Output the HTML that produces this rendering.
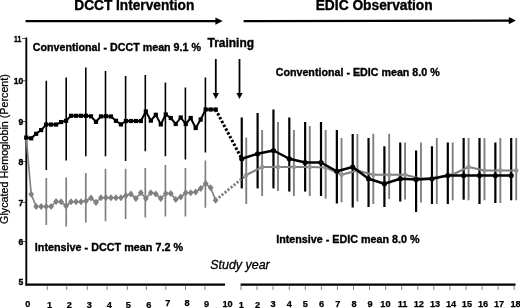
<!DOCTYPE html>
<html><head><meta charset="utf-8"><title>DCCT/EDIC</title>
<style>html,body{margin:0;padding:0;background:#fff;overflow:hidden}body{width:520px;height:308px;position:relative}</style></head>
<body>
<svg width="520" height="308" viewBox="0 0 520 308" style="display:block;position:absolute;left:0;top:0" font-family="'Liberation Sans', sans-serif">
<rect width="520" height="308" fill="#fff"/>
<line x1="25.6" y1="21.1" x2="218" y2="21.1" stroke="#000" stroke-width="2.4"/>
<polygon points="222.7,21.1 215.4,17.4 215.4,24.8" fill="#000"/>
<line x1="243.6" y1="21.1" x2="510" y2="20.6" stroke="#000" stroke-width="2.4"/>
<polygon points="515.9,20.6 508.8,17 508.8,24.2" fill="#000"/>
<text x="74.3" y="10.2" font-size="14" font-weight="bold" stroke="#000" stroke-width="0.35" textLength="120" lengthAdjust="spacingAndGlyphs">DCCT Intervention</text>
<text x="315.7" y="9.9" font-size="14" font-weight="bold" stroke="#000" stroke-width="0.35" textLength="117" lengthAdjust="spacingAndGlyphs">EDIC Observation</text>
<text x="207.5" y="47" font-size="12" font-weight="bold" stroke="#000" stroke-width="0.35" textLength="46.5" lengthAdjust="spacingAndGlyphs">Training</text>
<text x="32.7" y="51.3" font-size="10.7" font-weight="bold" stroke="#000" stroke-width="0.35" textLength="168.3" lengthAdjust="spacingAndGlyphs">Conventional - DCCT mean 9.1 %</text>
<text x="275.7" y="76.2" font-size="10.7" font-weight="bold" stroke="#000" stroke-width="0.35" textLength="164" lengthAdjust="spacingAndGlyphs">Conventional - EDIC mean 8.0 %</text>
<text x="34.8" y="251.2" font-size="10.7" font-weight="bold" stroke="#000" stroke-width="0.35" textLength="148.2" lengthAdjust="spacingAndGlyphs">Intensive - DCCT mean 7.2 %</text>
<text x="276.2" y="242.6" font-size="10.7" font-weight="bold" stroke="#000" stroke-width="0.35" textLength="143.4" lengthAdjust="spacingAndGlyphs">Intensive - EDIC mean 8.0 %</text>
<text x="210.2" y="269.3" font-size="12.3" font-style="italic" stroke="#000" stroke-width="0.3" textLength="59.6" lengthAdjust="spacingAndGlyphs">Study year</text>
<text transform="translate(8.1,223.9) rotate(-90)" font-size="10.6" stroke="#000" stroke-width="0.25" textLength="149.8" lengthAdjust="spacingAndGlyphs">Glycated Hemoglobin (Percent)</text>
<line x1="215.8" y1="59" x2="215.8" y2="94" stroke="#000" stroke-width="1.8"/>
<polygon points="215.8,98.9 212.70000000000002,93 218.9,93" fill="#000"/>
<line x1="239.5" y1="59" x2="239.5" y2="94" stroke="#000" stroke-width="1.8"/>
<polygon points="239.5,98.9 236.4,93 242.6,93" fill="#000"/>
<line x1="26.3" y1="37.5" x2="26.3" y2="285.7" stroke="#000" stroke-width="1.9"/>
<line x1="25.7" y1="284.6" x2="225" y2="284.6" stroke="#000" stroke-width="2.4"/>
<line x1="240.6" y1="284.6" x2="515.5" y2="284.6" stroke="#000" stroke-width="2.4"/>
<line x1="22" y1="38.5" x2="26" y2="38.5" stroke="#333" stroke-width="0.8"/>
<text x="21.2" y="42.3" font-size="8.6" font-weight="bold" stroke="#000" stroke-width="0.35" text-anchor="end" textLength="7.2" lengthAdjust="spacingAndGlyphs">11</text>
<line x1="22" y1="80.75" x2="26" y2="80.75" stroke="#333" stroke-width="0.8"/>
<text x="23.3" y="83.85" font-size="8.6" font-weight="bold" stroke="#000" stroke-width="0.35" text-anchor="end">10</text>
<line x1="22" y1="121.5" x2="26" y2="121.5" stroke="#333" stroke-width="0.8"/>
<text x="23.3" y="124.6" font-size="8.6" font-weight="bold" stroke="#000" stroke-width="0.35" text-anchor="end">9</text>
<line x1="22" y1="161.5" x2="26" y2="161.5" stroke="#333" stroke-width="0.8"/>
<text x="23.3" y="164.6" font-size="8.6" font-weight="bold" stroke="#000" stroke-width="0.35" text-anchor="end">8</text>
<line x1="22" y1="202.4" x2="26" y2="202.4" stroke="#333" stroke-width="0.8"/>
<text x="23.3" y="205.5" font-size="8.6" font-weight="bold" stroke="#000" stroke-width="0.35" text-anchor="end">7</text>
<line x1="22" y1="241.5" x2="26" y2="241.5" stroke="#333" stroke-width="0.8"/>
<text x="23.3" y="244.6" font-size="8.6" font-weight="bold" stroke="#000" stroke-width="0.35" text-anchor="end">6</text>
<text x="23.3" y="284.9" font-size="8.6" font-weight="bold" stroke="#000" stroke-width="0.35" text-anchor="end">5</text>
<line x1="47.3" y1="285.5" x2="47.3" y2="290" stroke="#666" stroke-width="0.8"/>
<line x1="66.8" y1="285.5" x2="66.8" y2="290" stroke="#666" stroke-width="0.8"/>
<line x1="87.3" y1="285.5" x2="87.3" y2="290" stroke="#666" stroke-width="0.8"/>
<line x1="107" y1="285.5" x2="107" y2="290" stroke="#666" stroke-width="0.8"/>
<line x1="127.4" y1="285.5" x2="127.4" y2="290" stroke="#666" stroke-width="0.8"/>
<line x1="146.3" y1="285.5" x2="146.3" y2="290" stroke="#666" stroke-width="0.8"/>
<line x1="165.8" y1="285.5" x2="165.8" y2="290" stroke="#666" stroke-width="0.8"/>
<line x1="185.5" y1="285.5" x2="185.5" y2="290" stroke="#666" stroke-width="0.8"/>
<line x1="205" y1="285.5" x2="205" y2="290" stroke="#666" stroke-width="0.8"/>
<text x="27.8" y="306.9" font-size="9.2" font-weight="bold" stroke="#000" stroke-width="0.25" text-anchor="middle">0</text>
<text x="49.6" y="308.2" font-size="9.2" font-weight="bold" stroke="#000" stroke-width="0.25" text-anchor="middle">1</text>
<text x="69.4" y="307.6" font-size="9.2" font-weight="bold" stroke="#000" stroke-width="0.25" text-anchor="middle">2</text>
<text x="89.4" y="307.6" font-size="9.2" font-weight="bold" stroke="#000" stroke-width="0.25" text-anchor="middle">3</text>
<text x="109.3" y="307.5" font-size="9.2" font-weight="bold" stroke="#000" stroke-width="0.25" text-anchor="middle">4</text>
<text x="128.4" y="307.5" font-size="9.2" font-weight="bold" stroke="#000" stroke-width="0.25" text-anchor="middle">5</text>
<text x="148.8" y="307.6" font-size="9.2" font-weight="bold" stroke="#000" stroke-width="0.25" text-anchor="middle">6</text>
<text x="167.9" y="306.2" font-size="9.2" font-weight="bold" stroke="#000" stroke-width="0.25" text-anchor="middle">7</text>
<text x="187.1" y="306.2" font-size="9.2" font-weight="bold" stroke="#000" stroke-width="0.25" text-anchor="middle">8</text>
<text x="206.6" y="306.9" font-size="9.2" font-weight="bold" stroke="#000" stroke-width="0.25" text-anchor="middle">9</text>
<text x="227.6" y="306.9" font-size="9.2" font-weight="bold" stroke="#000" stroke-width="0.25" text-anchor="middle">10</text>
<line x1="241.00" y1="285.5" x2="241.00" y2="290" stroke="#666" stroke-width="0.8"/>
<text x="241.2" y="308.1" font-size="9.2" font-weight="bold" stroke="#000" stroke-width="0.25" text-anchor="middle">1</text>
<line x1="257.07" y1="285.5" x2="257.07" y2="290" stroke="#666" stroke-width="0.8"/>
<text x="257.6" y="307.6" font-size="9.2" font-weight="bold" stroke="#000" stroke-width="0.25" text-anchor="middle">2</text>
<line x1="273.14" y1="285.5" x2="273.14" y2="290" stroke="#666" stroke-width="0.8"/>
<text x="273.1" y="307" font-size="9.2" font-weight="bold" stroke="#000" stroke-width="0.25" text-anchor="middle">3</text>
<line x1="289.21" y1="285.5" x2="289.21" y2="290" stroke="#666" stroke-width="0.8"/>
<text x="289.2" y="307" font-size="9.2" font-weight="bold" stroke="#000" stroke-width="0.25" text-anchor="middle">4</text>
<line x1="305.28" y1="285.5" x2="305.28" y2="290" stroke="#666" stroke-width="0.8"/>
<text x="305.4" y="306.7" font-size="9.2" font-weight="bold" stroke="#000" stroke-width="0.25" text-anchor="middle">5</text>
<line x1="321.35" y1="285.5" x2="321.35" y2="290" stroke="#666" stroke-width="0.8"/>
<text x="321.5" y="306.7" font-size="9.2" font-weight="bold" stroke="#000" stroke-width="0.25" text-anchor="middle">6</text>
<line x1="337.42" y1="285.5" x2="337.42" y2="290" stroke="#666" stroke-width="0.8"/>
<text x="337.9" y="306.7" font-size="9.2" font-weight="bold" stroke="#000" stroke-width="0.25" text-anchor="middle">7</text>
<line x1="353.49" y1="285.5" x2="353.49" y2="290" stroke="#666" stroke-width="0.8"/>
<text x="354.1" y="306.7" font-size="9.2" font-weight="bold" stroke="#000" stroke-width="0.25" text-anchor="middle">8</text>
<line x1="369.56" y1="285.5" x2="369.56" y2="290" stroke="#666" stroke-width="0.8"/>
<text x="370.1" y="306.7" font-size="9.2" font-weight="bold" stroke="#000" stroke-width="0.25" text-anchor="middle">9</text>
<line x1="385.63" y1="285.5" x2="385.63" y2="290" stroke="#666" stroke-width="0.8"/>
<text x="385.4" y="306.8" font-size="9.2" font-weight="bold" stroke="#000" stroke-width="0.25" text-anchor="middle">10</text>
<line x1="401.70" y1="285.5" x2="401.70" y2="290" stroke="#666" stroke-width="0.8"/>
<text x="402.5" y="306.9" font-size="9.2" font-weight="bold" stroke="#000" stroke-width="0.25" text-anchor="middle">11</text>
<line x1="417.77" y1="285.5" x2="417.77" y2="290" stroke="#666" stroke-width="0.8"/>
<text x="418.75" y="306.9" font-size="9.2" font-weight="bold" stroke="#000" stroke-width="0.25" text-anchor="middle">12</text>
<line x1="433.84" y1="285.5" x2="433.84" y2="290" stroke="#666" stroke-width="0.8"/>
<text x="435" y="306.9" font-size="9.2" font-weight="bold" stroke="#000" stroke-width="0.25" text-anchor="middle">13</text>
<line x1="449.91" y1="285.5" x2="449.91" y2="290" stroke="#666" stroke-width="0.8"/>
<text x="451.1" y="306.9" font-size="9.2" font-weight="bold" stroke="#000" stroke-width="0.25" text-anchor="middle">14</text>
<line x1="465.98" y1="285.5" x2="465.98" y2="290" stroke="#666" stroke-width="0.8"/>
<text x="466.9" y="306.9" font-size="9.2" font-weight="bold" stroke="#000" stroke-width="0.25" text-anchor="middle">15</text>
<line x1="482.05" y1="285.5" x2="482.05" y2="290" stroke="#666" stroke-width="0.8"/>
<text x="483.1" y="306.9" font-size="9.2" font-weight="bold" stroke="#000" stroke-width="0.25" text-anchor="middle">16</text>
<line x1="498.12" y1="285.5" x2="498.12" y2="290" stroke="#666" stroke-width="0.8"/>
<text x="499" y="306.9" font-size="9.2" font-weight="bold" stroke="#000" stroke-width="0.25" text-anchor="middle">17</text>
<line x1="514.19" y1="285.5" x2="514.19" y2="290" stroke="#666" stroke-width="0.8"/>
<text x="515.6" y="306.9" font-size="9.2" font-weight="bold" stroke="#000" stroke-width="0.25" text-anchor="middle">18</text>
<line x1="46.3" y1="178" x2="46.3" y2="225" stroke="#808080" stroke-width="1.7"/>
<line x1="66.2" y1="177.5" x2="66.2" y2="226.5" stroke="#808080" stroke-width="1.7"/>
<line x1="85.8" y1="173" x2="85.8" y2="222.5" stroke="#808080" stroke-width="1.7"/>
<line x1="105.5" y1="168.75" x2="105.5" y2="221.25" stroke="#808080" stroke-width="1.7"/>
<line x1="125.6" y1="168.75" x2="125.6" y2="219" stroke="#808080" stroke-width="1.7"/>
<line x1="145.3" y1="168" x2="145.3" y2="217.5" stroke="#808080" stroke-width="1.7"/>
<line x1="165.4" y1="165" x2="165.4" y2="216.5" stroke="#808080" stroke-width="1.7"/>
<line x1="185.4" y1="168" x2="185.4" y2="216.5" stroke="#808080" stroke-width="1.7"/>
<line x1="205.4" y1="160.5" x2="205.4" y2="207.75" stroke="#808080" stroke-width="1.7"/>
<line x1="46.3" y1="80.75" x2="46.3" y2="170" stroke="#000" stroke-width="1.6"/>
<line x1="66.2" y1="77.5" x2="66.2" y2="160.5" stroke="#000" stroke-width="1.6"/>
<line x1="85.8" y1="67.5" x2="85.8" y2="156.25" stroke="#000" stroke-width="1.6"/>
<line x1="105.5" y1="71" x2="105.5" y2="156.25" stroke="#000" stroke-width="1.6"/>
<line x1="125.6" y1="76" x2="125.6" y2="161" stroke="#000" stroke-width="1.6"/>
<line x1="145.3" y1="75" x2="145.3" y2="151.25" stroke="#000" stroke-width="1.6"/>
<line x1="165.4" y1="82.5" x2="165.4" y2="156.25" stroke="#000" stroke-width="1.6"/>
<line x1="185.4" y1="87.5" x2="185.4" y2="159.5" stroke="#000" stroke-width="1.6"/>
<line x1="205.4" y1="77.5" x2="205.4" y2="152.5" stroke="#000" stroke-width="1.6"/>
<line x1="246.25" y1="137.5" x2="246.25" y2="203.9" stroke="#808080" stroke-width="1.9"/>
<line x1="262.13" y1="130" x2="262.13" y2="196" stroke="#808080" stroke-width="1.9"/>
<line x1="278.01" y1="122" x2="278.01" y2="191" stroke="#808080" stroke-width="1.9"/>
<line x1="293.89" y1="130" x2="293.89" y2="196" stroke="#808080" stroke-width="1.9"/>
<line x1="309.77" y1="126" x2="309.77" y2="196" stroke="#808080" stroke-width="1.9"/>
<line x1="325.65" y1="130" x2="325.65" y2="198.75" stroke="#808080" stroke-width="1.9"/>
<line x1="341.53" y1="138" x2="341.53" y2="202.3" stroke="#808080" stroke-width="1.9"/>
<line x1="357.41" y1="134" x2="357.41" y2="201.5" stroke="#808080" stroke-width="1.9"/>
<line x1="373.29" y1="133.75" x2="373.29" y2="204" stroke="#808080" stroke-width="1.9"/>
<line x1="389.17" y1="133.75" x2="389.17" y2="199" stroke="#808080" stroke-width="1.9"/>
<line x1="405.05" y1="142.5" x2="405.05" y2="199.6" stroke="#808080" stroke-width="1.9"/>
<line x1="420.93" y1="142.5" x2="420.93" y2="202.5" stroke="#808080" stroke-width="1.9"/>
<line x1="436.81" y1="138" x2="436.81" y2="204" stroke="#808080" stroke-width="1.9"/>
<line x1="452.69" y1="142.5" x2="452.69" y2="200.3" stroke="#808080" stroke-width="1.9"/>
<line x1="468.57" y1="138" x2="468.57" y2="200.3" stroke="#808080" stroke-width="1.9"/>
<line x1="484.45" y1="138" x2="484.45" y2="200.3" stroke="#808080" stroke-width="1.9"/>
<line x1="500.33" y1="138" x2="500.33" y2="203" stroke="#808080" stroke-width="1.9"/>
<line x1="516.21" y1="138" x2="516.21" y2="200.3" stroke="#808080" stroke-width="1.9"/>
<line x1="241.75" y1="117.5" x2="241.75" y2="188.4" stroke="#000" stroke-width="2.2"/>
<line x1="257.60" y1="113" x2="257.60" y2="188.4" stroke="#000" stroke-width="2.2"/>
<line x1="273.45" y1="109.5" x2="273.45" y2="188.4" stroke="#000" stroke-width="2.2"/>
<line x1="289.30" y1="117.5" x2="289.30" y2="191.6" stroke="#000" stroke-width="2.2"/>
<line x1="305.15" y1="122" x2="305.15" y2="191.6" stroke="#000" stroke-width="2.2"/>
<line x1="321.00" y1="122" x2="321.00" y2="196" stroke="#000" stroke-width="2.2"/>
<line x1="336.85" y1="130" x2="336.85" y2="203.5" stroke="#000" stroke-width="2.2"/>
<line x1="352.70" y1="134" x2="352.70" y2="207.5" stroke="#000" stroke-width="2.2"/>
<line x1="368.55" y1="138" x2="368.55" y2="207" stroke="#000" stroke-width="2.2"/>
<line x1="384.40" y1="146.25" x2="384.40" y2="207" stroke="#000" stroke-width="2.2"/>
<line x1="400.25" y1="142.5" x2="400.25" y2="201.5" stroke="#000" stroke-width="2.2"/>
<line x1="416.10" y1="150.5" x2="416.10" y2="212" stroke="#000" stroke-width="2.2"/>
<line x1="431.95" y1="146.25" x2="431.95" y2="204" stroke="#000" stroke-width="2.2"/>
<line x1="447.80" y1="142.5" x2="447.80" y2="204" stroke="#000" stroke-width="2.2"/>
<line x1="463.65" y1="138" x2="463.65" y2="199.7" stroke="#000" stroke-width="2.2"/>
<line x1="479.50" y1="138" x2="479.50" y2="204" stroke="#000" stroke-width="2.2"/>
<line x1="495.35" y1="142.5" x2="495.35" y2="203" stroke="#000" stroke-width="2.2"/>
<line x1="511.20" y1="138" x2="511.20" y2="200.3" stroke="#000" stroke-width="2.2"/>
<polyline points="26.20,137 31.18,194.25 36.17,206.5 41.16,206.5 46.14,206.5 51.12,206.5 56.11,201.5 61.09,201.75 66.08,206 71.06,201.75 76.05,201.75 81.03,201.75 86.02,201 91.01,198 95.99,202.4 100.98,197.75 105.96,197.75 110.95,197.75 115.93,197.75 120.92,197.75 125.90,195.5 130.88,194 135.87,198.5 140.85,192.75 145.84,198.5 150.83,192.75 155.81,194 160.79,198.5 165.78,193.5 170.76,193.5 175.75,199.5 180.73,197 185.72,192.75 190.71,192.75 195.69,192 200.68,188.5 205.66,183.5 210.65,187.75 215.63,200.25" fill="none" stroke="#808080" stroke-width="1.7" stroke-linejoin="round"/>
<polygon points="31.18,190.65 34.09,194.25 31.18,197.85 28.29,194.25" fill="#808080"/>
<polygon points="36.17,202.9 39.07,206.5 36.17,210.1 33.27,206.5" fill="#808080"/>
<polygon points="41.16,202.9 44.05,206.5 41.16,210.1 38.26,206.5" fill="#808080"/>
<polygon points="46.14,202.9 49.04,206.5 46.14,210.1 43.24,206.5" fill="#808080"/>
<polygon points="51.12,202.9 54.02,206.5 51.12,210.1 48.23,206.5" fill="#808080"/>
<polygon points="56.11,197.9 59.01,201.5 56.11,205.1 53.21,201.5" fill="#808080"/>
<polygon points="61.09,198.15 63.99,201.75 61.09,205.35 58.20,201.75" fill="#808080"/>
<polygon points="66.08,202.4 68.98,206 66.08,209.6 63.18,206" fill="#808080"/>
<polygon points="71.06,198.15 73.97,201.75 71.06,205.35 68.16,201.75" fill="#808080"/>
<polygon points="76.05,198.15 78.95,201.75 76.05,205.35 73.15,201.75" fill="#808080"/>
<polygon points="81.03,198.15 83.94,201.75 81.03,205.35 78.13,201.75" fill="#808080"/>
<polygon points="86.02,197.4 88.92,201 86.02,204.6 83.12,201" fill="#808080"/>
<polygon points="91.01,194.4 93.91,198 91.01,201.6 88.11,198" fill="#808080"/>
<polygon points="95.99,198.8 98.89,202.4 95.99,206.0 93.09,202.4" fill="#808080"/>
<polygon points="100.98,194.15 103.88,197.75 100.98,201.35 98.08,197.75" fill="#808080"/>
<polygon points="105.96,194.15 108.86,197.75 105.96,201.35 103.06,197.75" fill="#808080"/>
<polygon points="110.95,194.15 113.85,197.75 110.95,201.35 108.05,197.75" fill="#808080"/>
<polygon points="115.93,194.15 118.83,197.75 115.93,201.35 113.03,197.75" fill="#808080"/>
<polygon points="120.92,194.15 123.82,197.75 120.92,201.35 118.02,197.75" fill="#808080"/>
<polygon points="125.90,191.9 128.80,195.5 125.90,199.1 123.00,195.5" fill="#808080"/>
<polygon points="130.88,190.4 133.78,194 130.88,197.6 127.98,194" fill="#808080"/>
<polygon points="135.87,194.9 138.77,198.5 135.87,202.1 132.97,198.5" fill="#808080"/>
<polygon points="140.85,189.15 143.75,192.75 140.85,196.35 137.95,192.75" fill="#808080"/>
<polygon points="145.84,194.9 148.74,198.5 145.84,202.1 142.94,198.5" fill="#808080"/>
<polygon points="150.83,189.15 153.73,192.75 150.83,196.35 147.93,192.75" fill="#808080"/>
<polygon points="155.81,190.4 158.71,194 155.81,197.6 152.91,194" fill="#808080"/>
<polygon points="160.79,194.9 163.69,198.5 160.79,202.1 157.89,198.5" fill="#808080"/>
<polygon points="165.78,189.9 168.68,193.5 165.78,197.1 162.88,193.5" fill="#808080"/>
<polygon points="170.76,189.9 173.66,193.5 170.76,197.1 167.86,193.5" fill="#808080"/>
<polygon points="175.75,195.9 178.65,199.5 175.75,203.1 172.85,199.5" fill="#808080"/>
<polygon points="180.73,193.4 183.63,197 180.73,200.6 177.83,197" fill="#808080"/>
<polygon points="185.72,189.15 188.62,192.75 185.72,196.35 182.82,192.75" fill="#808080"/>
<polygon points="190.71,189.15 193.61,192.75 190.71,196.35 187.81,192.75" fill="#808080"/>
<polygon points="195.69,188.4 198.59,192 195.69,195.6 192.79,192" fill="#808080"/>
<polygon points="200.68,184.9 203.58,188.5 200.68,192.1 197.78,188.5" fill="#808080"/>
<polygon points="205.66,179.9 208.56,183.5 205.66,187.1 202.76,183.5" fill="#808080"/>
<polygon points="210.65,184.15 213.55,187.75 210.65,191.35 207.75,187.75" fill="#808080"/>
<polygon points="215.63,196.65 218.53,200.25 215.63,203.85 212.73,200.25" fill="#808080"/>
<polyline points="26.20,137.6 31.18,138.3 36.17,133.8 41.16,130.05 46.14,124.55 51.12,124.55 56.11,124.55 61.09,122.05 66.08,120.8 71.06,115.8 76.05,115.8 81.03,115.8 86.02,115.8 91.01,116.3 95.99,121.8 100.98,116.4 105.96,116.2 110.95,116.5 115.93,120.8 120.92,124.4 125.90,121 130.88,121 135.87,121 140.85,121 145.84,111.5 150.83,120.6 155.81,114.75 160.79,124.4 165.78,114.5 170.76,118 175.75,124 180.73,117.5 185.72,124 190.71,118 195.69,128 200.68,119.5 205.66,109.5 210.65,109.5 215.63,109.5" fill="none" stroke="#000" stroke-width="2" stroke-linejoin="round"/>
<rect x="24.10" y="135.5" width="4.2" height="4.2" fill="#000"/>
<rect x="29.08" y="136.20000000000002" width="4.2" height="4.2" fill="#000"/>
<rect x="34.07" y="131.70000000000002" width="4.2" height="4.2" fill="#000"/>
<rect x="39.05" y="127.95000000000002" width="4.2" height="4.2" fill="#000"/>
<rect x="44.04" y="122.45" width="4.2" height="4.2" fill="#000"/>
<rect x="49.02" y="122.45" width="4.2" height="4.2" fill="#000"/>
<rect x="54.01" y="122.45" width="4.2" height="4.2" fill="#000"/>
<rect x="58.99" y="119.95" width="4.2" height="4.2" fill="#000"/>
<rect x="63.98" y="118.7" width="4.2" height="4.2" fill="#000"/>
<rect x="68.97" y="113.7" width="4.2" height="4.2" fill="#000"/>
<rect x="73.95" y="113.7" width="4.2" height="4.2" fill="#000"/>
<rect x="78.94" y="113.7" width="4.2" height="4.2" fill="#000"/>
<rect x="83.92" y="113.7" width="4.2" height="4.2" fill="#000"/>
<rect x="88.91" y="114.2" width="4.2" height="4.2" fill="#000"/>
<rect x="93.89" y="119.7" width="4.2" height="4.2" fill="#000"/>
<rect x="98.88" y="114.30000000000001" width="4.2" height="4.2" fill="#000"/>
<rect x="103.86" y="114.10000000000001" width="4.2" height="4.2" fill="#000"/>
<rect x="108.85" y="114.4" width="4.2" height="4.2" fill="#000"/>
<rect x="113.83" y="118.7" width="4.2" height="4.2" fill="#000"/>
<rect x="118.82" y="122.30000000000001" width="4.2" height="4.2" fill="#000"/>
<rect x="123.80" y="118.9" width="4.2" height="4.2" fill="#000"/>
<rect x="128.78" y="118.9" width="4.2" height="4.2" fill="#000"/>
<rect x="133.77" y="118.9" width="4.2" height="4.2" fill="#000"/>
<rect x="138.75" y="118.9" width="4.2" height="4.2" fill="#000"/>
<rect x="143.74" y="109.4" width="4.2" height="4.2" fill="#000"/>
<rect x="148.73" y="118.5" width="4.2" height="4.2" fill="#000"/>
<rect x="153.71" y="112.65" width="4.2" height="4.2" fill="#000"/>
<rect x="158.69" y="122.30000000000001" width="4.2" height="4.2" fill="#000"/>
<rect x="163.68" y="112.4" width="4.2" height="4.2" fill="#000"/>
<rect x="168.66" y="115.9" width="4.2" height="4.2" fill="#000"/>
<rect x="173.65" y="121.9" width="4.2" height="4.2" fill="#000"/>
<rect x="178.63" y="115.4" width="4.2" height="4.2" fill="#000"/>
<rect x="183.62" y="121.9" width="4.2" height="4.2" fill="#000"/>
<rect x="188.61" y="115.9" width="4.2" height="4.2" fill="#000"/>
<rect x="193.59" y="125.9" width="4.2" height="4.2" fill="#000"/>
<rect x="198.58" y="117.4" width="4.2" height="4.2" fill="#000"/>
<rect x="203.56" y="107.4" width="4.2" height="4.2" fill="#000"/>
<rect x="208.55" y="107.4" width="4.2" height="4.2" fill="#000"/>
<rect x="213.53" y="107.4" width="4.2" height="4.2" fill="#000"/>
<line x1="215.63" y1="200.25" x2="246.25" y2="175" stroke="#808080" stroke-width="2.8" stroke-dasharray="2.2 1.7"/>
<line x1="215.63" y1="109.5" x2="241.75" y2="158.75" stroke="#000" stroke-width="3" stroke-dasharray="2.5 1.8"/>
<polyline points="246.25,175 262.13,167 278.01,167 293.89,167 309.77,167 325.65,167.5 341.53,174.7 357.41,170.5 373.29,174.7 389.17,174.8 405.05,174.8 420.93,178.75 436.81,177.5 452.69,174.5 468.57,167 484.45,170.5 500.33,170.5 516.21,170.5" fill="none" stroke="#808080" stroke-width="2" stroke-linejoin="round"/>
<circle cx="246.25" cy="175" r="2.3" fill="#949494"/>
<circle cx="262.13" cy="167" r="2.3" fill="#949494"/>
<circle cx="278.01" cy="167" r="2.3" fill="#949494"/>
<circle cx="293.89" cy="167" r="2.3" fill="#949494"/>
<circle cx="309.77" cy="167" r="2.3" fill="#949494"/>
<circle cx="325.65" cy="167.5" r="2.3" fill="#949494"/>
<circle cx="341.53" cy="174.7" r="2.3" fill="#949494"/>
<circle cx="357.41" cy="170.5" r="2.3" fill="#949494"/>
<circle cx="373.29" cy="174.7" r="2.3" fill="#949494"/>
<circle cx="389.17" cy="174.8" r="2.3" fill="#949494"/>
<circle cx="405.05" cy="174.8" r="2.3" fill="#949494"/>
<circle cx="420.93" cy="178.75" r="2.3" fill="#949494"/>
<circle cx="436.81" cy="177.5" r="2.3" fill="#949494"/>
<circle cx="452.69" cy="174.5" r="2.3" fill="#949494"/>
<circle cx="468.57" cy="167" r="2.3" fill="#949494"/>
<circle cx="484.45" cy="170.5" r="2.3" fill="#949494"/>
<circle cx="500.33" cy="170.5" r="2.3" fill="#949494"/>
<circle cx="516.21" cy="170.5" r="2.3" fill="#949494"/>
<polyline points="241.75,158.75 257.60,153.75 273.45,150.5 289.30,158.75 305.15,162.5 321.00,162.5 336.85,171.25 352.70,167 368.55,178.75 384.40,183.75 400.25,178.75 416.10,179.5 431.95,178.75 447.80,175.5 463.65,175.5 479.50,175.5 495.35,175.5 511.20,175.5" fill="none" stroke="#000" stroke-width="2.4" stroke-linejoin="round"/>
<circle cx="241.75" cy="158.75" r="2.6" fill="#000"/>
<circle cx="257.60" cy="153.75" r="2.6" fill="#000"/>
<circle cx="273.45" cy="150.5" r="2.6" fill="#000"/>
<circle cx="289.30" cy="158.75" r="2.6" fill="#000"/>
<circle cx="305.15" cy="162.5" r="2.6" fill="#000"/>
<circle cx="321.00" cy="162.5" r="2.6" fill="#000"/>
<circle cx="336.85" cy="171.25" r="2.6" fill="#000"/>
<circle cx="352.70" cy="167" r="2.6" fill="#000"/>
<circle cx="368.55" cy="178.75" r="2.6" fill="#000"/>
<circle cx="384.40" cy="183.75" r="2.6" fill="#000"/>
<circle cx="400.25" cy="178.75" r="2.6" fill="#000"/>
<circle cx="416.10" cy="179.5" r="2.6" fill="#000"/>
<circle cx="431.95" cy="178.75" r="2.6" fill="#000"/>
<circle cx="447.80" cy="175.5" r="2.6" fill="#000"/>
<circle cx="463.65" cy="175.5" r="2.6" fill="#000"/>
<circle cx="479.50" cy="175.5" r="2.6" fill="#000"/>
<circle cx="495.35" cy="175.5" r="2.6" fill="#000"/>
<circle cx="511.20" cy="175.5" r="2.6" fill="#000"/>
</svg>
</body></html>
